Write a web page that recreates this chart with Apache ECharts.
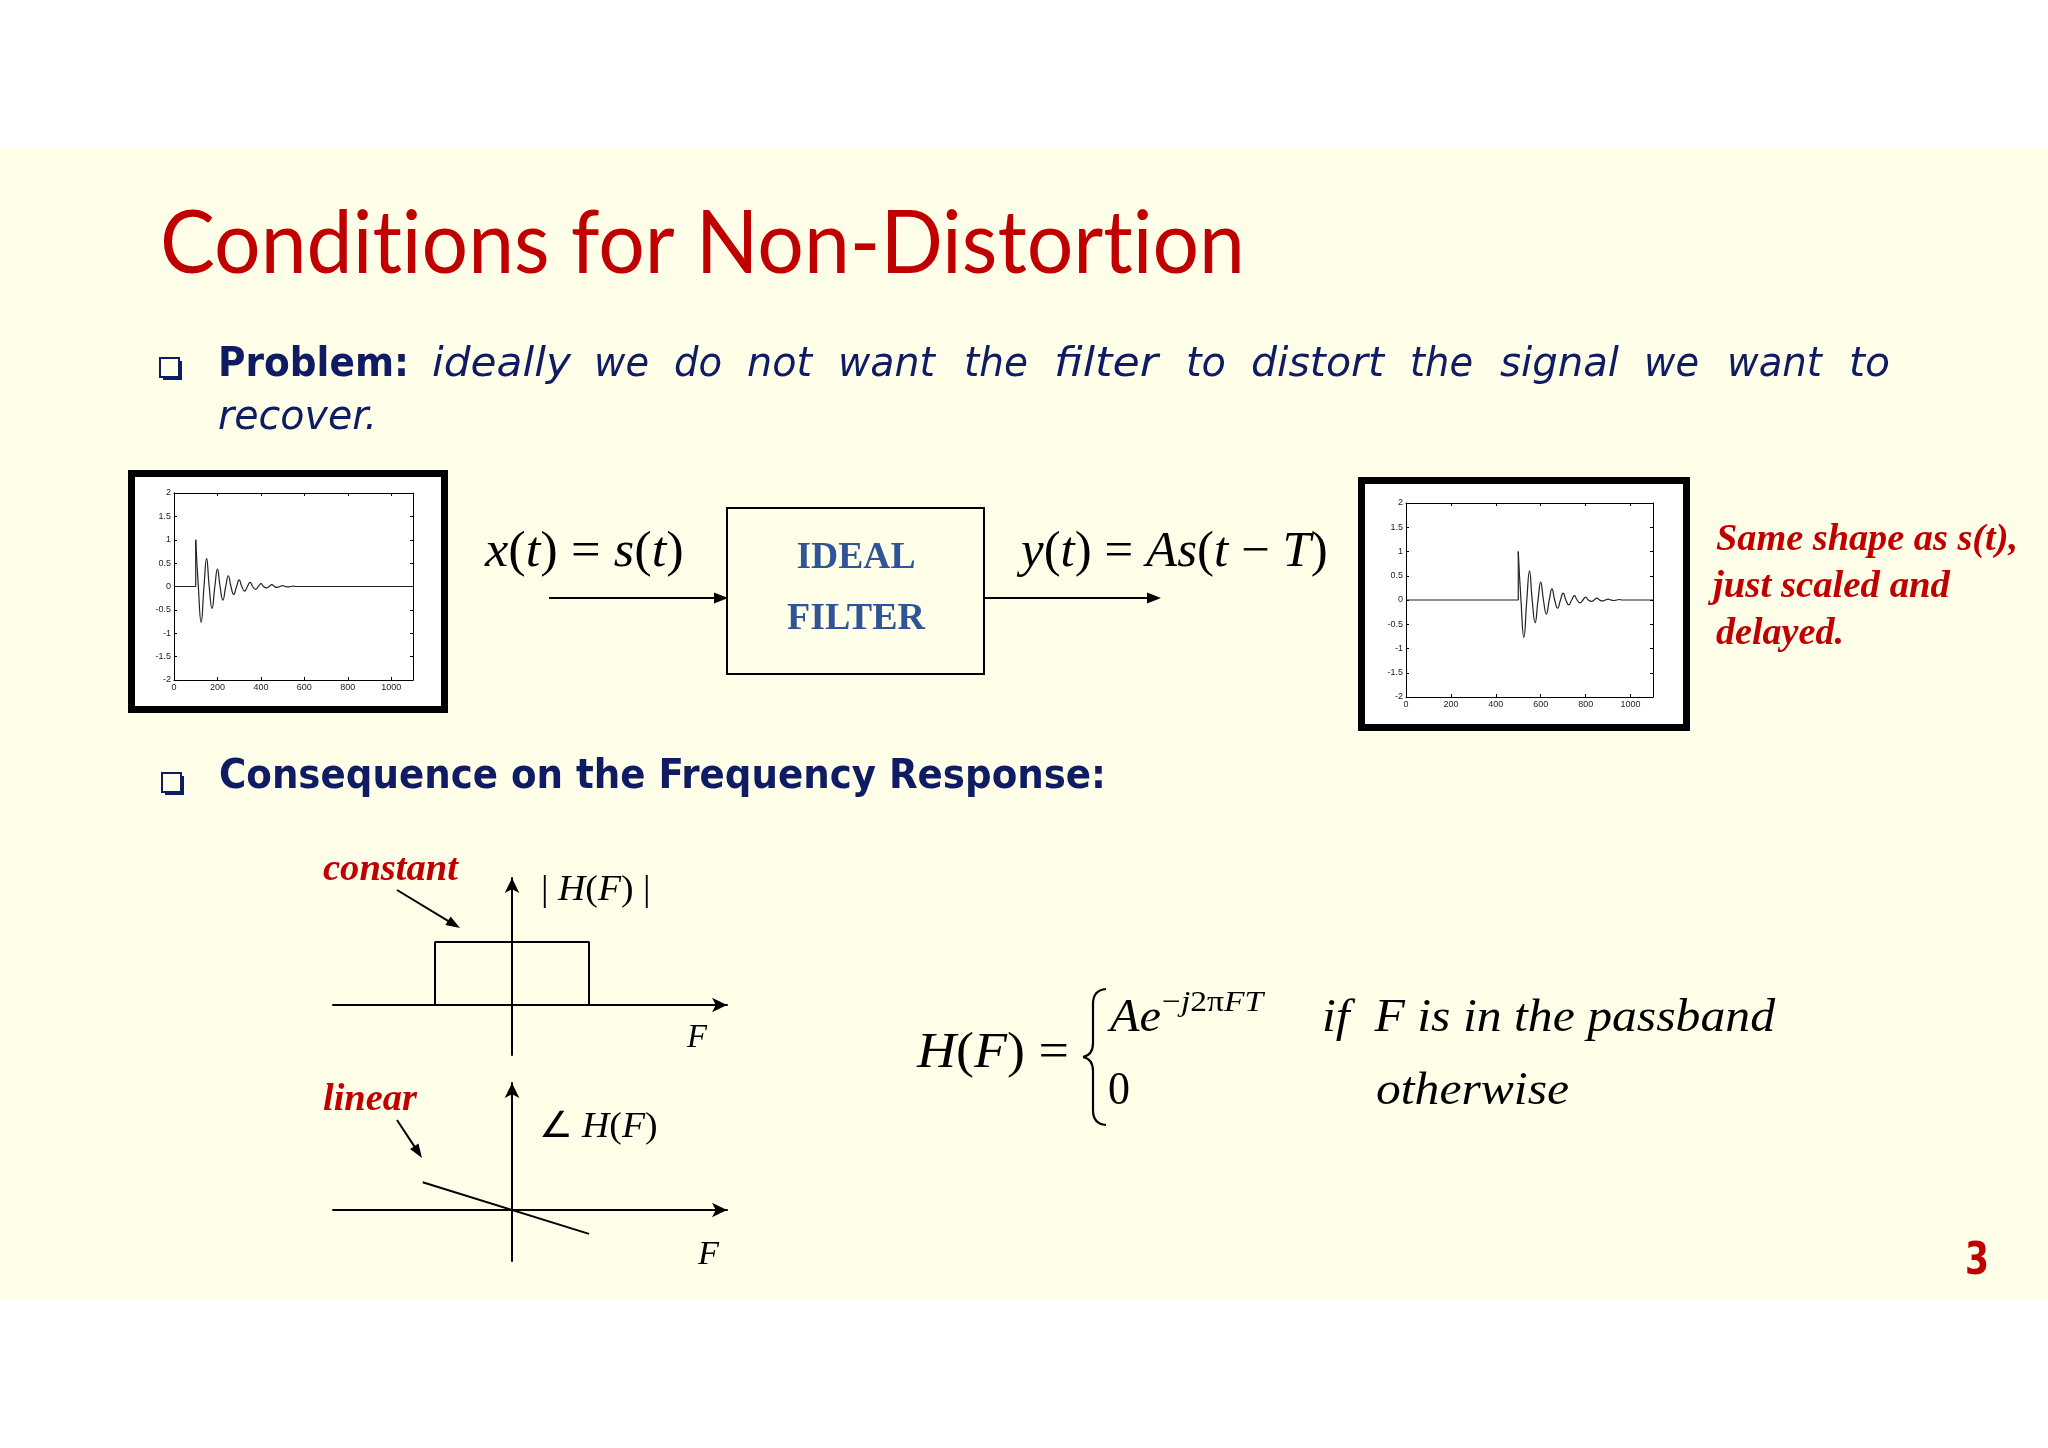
<!DOCTYPE html>
<html><head><meta charset="utf-8">
<script src="https://cdn.jsdelivr.net/npm/echarts@6/dist/echarts.min.js"></script>
<style>html,body{margin:0;padding:0;background:#fff}#c{width:2048px;height:1448px}</style>
</head><body><div id="c"></div>
<script>
// ---------------- data ----------------
const signalTimeTicks = [0, 200, 400, 600, 800, 1000];
const signalAmpTicks = [-2, -1.5, -1, -0.5, 0, 0.5, 1, 1.5, 2];

const inputBaseTime  = [0, 100, 100];
const inputBaseValue = [0, 0, 1];
const inputRingTime  = [100,112,125,138,150,162,175,188,200,212,225,238,250,262,275,288,300,312,325,338,350,362,375,388,400,412,425,438,450,462,475,488,500,512,525,538,550,562,1100];
const inputRingValue = [1,0,-0.77,0,0.60,0,-0.47,0,0.37,0,-0.29,0,0.23,0,-0.17,0,0.14,0,-0.10,0,0.09,0,-0.06,0,0.06,0,-0.03,0,0.04,0,-0.02,0,0.02,0,-0.01,0,0.01,0,0];

const outputBaseTime  = [0, 500, 500];
const outputBaseValue = [0, 0, 1];
const outputRingTime  = [500,512,525,538,550,562,575,588,600,612,625,638,650,662,675,688,700,712,725,738,750,762,775,788,800,812,825,838,850,862,875,888,900,912,925,938,950,962,1100];
const outputRingValue = [1,0,-0.77,0,0.60,0,-0.47,0,0.37,0,-0.29,0,0.23,0,-0.17,0,0.14,0,-0.10,0,0.09,0,-0.06,0,0.06,0,-0.03,0,0.04,0,-0.02,0,0.02,0,-0.01,0,0.01,0,0];

const magFreq  = [-1, -1, 1, 1];
const magValue = [0, 1, 1, 0];
const phaseFreq  = [-1.16, 1.0];
const phaseValue = [0.44, -0.38];

// ---------------- helpers ----------------
const zip = (a, b) => a.map((v, i) => [v, b[i]]);
const mctx = document.createElement('canvas').getContext('2d');
function measure(text, font) { mctx.font = font; return mctx.measureText(text).width; }
const SERIF = '"Liberation Serif", "Times New Roman", serif';
const SANS = '"DejaVu Sans Condensed", "DejaVu Sans", sans-serif';
const NAVY = '#0f1c63';
const RED = '#c00000';

function T(text, x, base, o) {
  const fam = o.family || SERIF;
  const font = (o.style || 'normal') + ' ' + (o.weight || 'normal') + ' ' + o.size + 'px ' + fam;
  let sx = 1;
  if (o.w) sx = o.w / measure(text, font);
  const mid = o.mid != null ? o.mid : 0.34;
  return { type: 'text', x: x, y: base - mid * o.size, scaleX: sx, z: 10,
    style: { text: text, x: 0, y: 0, font: font, fill: o.color || '#000', align: o.align || 'left', verticalAlign: 'middle' } };
}
function R(text, x, base, size, sx) {
  return { type: 'text', x: x, y: base - 0.34 * size, scaleX: sx || 1, z: 10,
    style: { text: text, x: 0, y: 0, rich: mathRich(size), font: size + 'px ' + SERIF, fill: '#000', align: 'left', verticalAlign: 'middle' } };
}
function arrow(x1, y1, x2, y2, L, W, lw) {
  const a = Math.atan2(y2 - y1, x2 - x1), c = Math.cos(a), s = Math.sin(a);
  const bx = x2 - L * c, by = y2 - L * s;
  return [
    { type: 'line', z: 10, shape: { x1: x1, y1: y1, x2: bx + 1 * c, y2: by + 1 * s }, style: { stroke: '#000', lineWidth: lw } },
    { type: 'polygon', z: 10, shape: { points: [[x2, y2], [bx - W / 2 * s, by + W / 2 * c], [bx + W / 2 * s, by - W / 2 * c]] }, style: { fill: '#000' } }
  ];
}
function bulletBox(x, y, s) {
  return [
    { type: 'rect', z: 9, shape: { x: x + 3, y: y + 3, width: s, height: s }, style: { fill: NAVY } },
    { type: 'rect', z: 10, shape: { x: x, y: y, width: s, height: s }, style: { fill: '#ffffe9', stroke: NAVY, lineWidth: 2 } }
  ];
}
function mathRich(size) {
  return {
    v: { font: 'italic ' + size + 'px ' + SERIF, fill: '#000' },
    r: { font: size + 'px ' + SERIF, fill: '#000' }
  };
}
function curve(x1, y1, cx, cy, x2, y2) {
  return { type: 'bezierCurve', z: 10, shape: { x1: x1, y1: y1, cpx1: cx, cpy1: cy, x2: x2, y2: y2 }, style: { fill: 'none', stroke: '#000', lineWidth: 2.2 } };
}
function seg(x1, y1, x2, y2, lw) {
  return { type: 'line', z: 10, shape: { x1: x1, y1: y1, x2: x2, y2: y2 }, style: { stroke: '#000', lineWidth: lw || 2.2 } };
}

// ---------------- graphics (slide layout) ----------------
const G = [];
G.push({ type: 'rect', z: -20, shape: { x: 0, y: 148, width: 2048, height: 1151 }, style: { fill: '#ffffe9' } });
// title
G.push(T('Condit\u200Cions for Non-Distort\u200Cion', 160, 279, { size: 88, family: 'Lato, "Open Sans", sans-serif', color: RED, w: 1085, mid: 0.39 }));
// bullet 1
G.push(...bulletBox(160, 358, 19));
const line1 = [
  ['Problem:', 218, 409, 'bold', 'normal'],
  ['ideally', 432, 571], ['we', 594, 649], ['do', 674, 722], ['not', 747, 812], ['want', 838, 935],
  ['the', 964, 1028], ['filter', 1054, 1158], ['to', 1186, 1226], ['distort', 1251, 1384], ['the', 1410, 1473],
  ['signal', 1500, 1619], ['we', 1644, 1699], ['want', 1727, 1822], ['to', 1849, 1890]
];
line1.forEach(w => G.push(T(w[0], w[1], 380, { size: 40, family: SANS, weight: w[3] || 'normal', style: w[4] || 'italic', color: NAVY, w: w[2] - w[1], mid: 0.35 })));
G.push(T('recover.', 218, 433, { size: 40, family: SANS, style: 'italic', color: NAVY, w: 159, mid: 0.35 }));
// bullet 2
G.push(...bulletBox(162, 773, 19));
G.push(T('Consequence on the Frequency Response:', 219, 792, { size: 40, family: SANS, weight: 'bold', color: NAVY, w: 887, mid: 0.35 }));

// signal frames
G.push({ type: 'rect', z: -10, shape: { x: 131.5, y: 473.5, width: 313, height: 236 }, style: { fill: '#fff', stroke: '#000', lineWidth: 7 } });
G.push({ type: 'rect', z: -10, shape: { x: 1361.5, y: 480.5, width: 325, height: 247 }, style: { fill: '#fff', stroke: '#000', lineWidth: 7 } });

// block diagram
G.push(R('{v|x}{r|(}{v|t}{r|) = }{v|s}{r|(}{v|t}{r|)}', 485, 570, 50, 1.05));
G.push(...arrow(549, 598, 728, 598, 14, 11, 2));
G.push({ type: 'rect', z: 10, shape: { x: 727, y: 508, width: 257, height: 166 }, style: { fill: 'none', stroke: '#000', lineWidth: 2 } });
G.push(T('IDEAL', 856, 571, { size: 37, weight: 'bold', color: '#2f5597', align: 'center', w: 119 }));
G.push(T('FILTER', 856, 632, { size: 37, weight: 'bold', color: '#2f5597', align: 'center', w: 138 }));
G.push(...arrow(984, 598, 1161, 598, 14, 11, 2));
G.push(R('{v|y}{r|(}{v|t}{r|) = }{v|As}{r|(}{v|t}{r| \u2212 }{v|T}{r|)}', 1021, 570, 50, 1.02));

// red note
G.push(T('Same shape as s(t),', 1716, 553, { size: 38, weight: 'bold', style: 'italic', color: RED, w: 302 }));
G.push(T('just scaled and', 1713, 600, { size: 38, weight: 'bold', style: 'italic', color: RED, w: 237 }));
G.push(T('delayed.', 1716, 647, { size: 38, weight: 'bold', style: 'italic', color: RED, w: 128 }));

// frequency-plot annotations
G.push(T('constant', 323, 883, { size: 37, weight: 'bold', style: 'italic', color: RED, w: 135 }));
G.push(...arrow(397, 890, 460, 928, 14, 10, 2));
G.push(R('{r|| }{v|H}{r|(}{v|F}{r|) |}', 541, 903, 36, 1.05));
G.push(T('F', 687, 1050, { size: 34, style: 'italic', w: 20 }));
G.push(T('linear', 323, 1113, { size: 37, weight: 'bold', style: 'italic', color: RED, w: 94 }));
G.push(...arrow(397, 1120, 422, 1158, 14, 10, 2));
G.push(R('{r|\u2220 }{v|H}{r|(}{v|F}{r|)}', 539, 1140, 36, 1.05));
G.push(T('F', 698, 1267, { size: 34, style: 'italic', w: 21 }));

// formula
G.push(R('{v|H}{r|(}{v|F}{r|) =}', 917, 1071, 50, 1.08));
G.push(curve(1106, 989, 1093, 990, 1093, 1004));
G.push(seg(1093, 1004, 1093, 1043));
G.push(curve(1093, 1043, 1093, 1055, 1083, 1057));
G.push(curve(1083, 1057, 1093, 1059, 1093, 1071));
G.push(seg(1093, 1071, 1093, 1110));
G.push(curve(1093, 1110, 1093, 1124, 1106, 1125));
G.push(T('Ae', 1110, 1035, { size: 46, style: 'italic', w: 51 }));
G.push(R('{r|\u2212}{v|j}{r|2\u03c0}{v|FT}', 1162, 1013, 30, 1.12));
G.push(T('if  F is in the passband', 1322, 1035, { size: 46, style: 'italic', w: 453 }));
G.push(T('0', 1108, 1108, { size: 46, w: 22 }));
G.push(T('otherwise', 1376, 1108, { size: 46, style: 'italic', w: 193 }));

// page number
G.push(T('3', 1977, 1278, { size: 44, family: SANS, weight: 'bold', color: RED, align: 'center', w: 24, mid: 0.35 }));

// ---------------- chart ----------------
const tickFont = { fontSize: 9, color: '#222', fontFamily: '"Liberation Sans", Arial, sans-serif' };
function sigX(gi, pos, labels) {
  return { type: 'value', gridIndex: gi, position: pos, min: signalTimeTicks[0], max: 1100,
    interval: signalTimeTicks[1] - signalTimeTicks[0],
    axisLine: { onZero: false, lineStyle: { color: '#000', width: 1 } },
    axisTick: { show: true, inside: true, length: 3, lineStyle: { color: '#000' } },
    axisLabel: Object.assign({ show: labels, margin: 3, showMaxLabel: false, formatter: v => String(v) }, tickFont),
    splitLine: { show: false } };
}
function sigY(gi, pos, labels) {
  return { type: 'value', gridIndex: gi, position: pos, min: signalAmpTicks[0], max: signalAmpTicks[signalAmpTicks.length - 1],
    interval: signalAmpTicks[1] - signalAmpTicks[0],
    axisLine: { onZero: false, show: true, lineStyle: { color: '#000', width: 1 } },
    axisTick: { show: true, inside: true, length: 3, lineStyle: { color: '#000' } },
    axisLabel: Object.assign({ show: labels, margin: 3 }, tickFont),
    splitLine: { show: false } };
}
function fAxis(gi, min, max) {
  return { type: 'value', gridIndex: gi, min: min, max: max,
    axisLine: { show: true, onZero: true, symbol: ['none', 'arrow'], symbolSize: [11, 15], lineStyle: { color: '#000', width: 2 } },
    axisTick: { show: false }, axisLabel: { show: false }, splitLine: { show: false } };
}
const sigLine = { color: '#222', width: 1.2 };
const option = {
  animation: false,
  backgroundColor: '#ffffff',
  grid: [
    { left: 174, top: 493, width: 239, height: 187 },
    { left: 1406, top: 503, width: 247, height: 194 },
    { left: 333, top: 878, width: 394, height: 177 },
    { left: 333, top: 1083, width: 394, height: 178 }
  ],
  xAxis: [
    sigX(0, 'bottom', true), sigX(0, 'top', false),
    sigX(1, 'bottom', true), sigX(1, 'top', false),
    fAxis(2, -2.325, 2.792), fAxis(3, -2.325, 2.792)
  ],
  yAxis: [
    sigY(0, 'left', true), sigY(0, 'right', false),
    sigY(1, 'left', true), sigY(1, 'right', false),
    fAxis(2, -0.794, 2.016), fAxis(3, -0.81, 2.016)
  ],
  series: [
    { type: 'line', xAxisIndex: 0, yAxisIndex: 0, data: zip(inputBaseTime, inputBaseValue), showSymbol: false, lineStyle: sigLine },
    { type: 'line', xAxisIndex: 0, yAxisIndex: 0, data: zip(inputRingTime, inputRingValue), smooth: 0.5, showSymbol: false, lineStyle: sigLine },
    { type: 'line', xAxisIndex: 2, yAxisIndex: 2, data: zip(outputBaseTime, outputBaseValue), showSymbol: false, lineStyle: sigLine },
    { type: 'line', xAxisIndex: 2, yAxisIndex: 2, data: zip(outputRingTime, outputRingValue), smooth: 0.5, showSymbol: false, lineStyle: sigLine },
    { type: 'line', xAxisIndex: 4, yAxisIndex: 4, data: zip(magFreq, magValue), showSymbol: false, lineStyle: { color: '#000', width: 2 } },
    { type: 'line', xAxisIndex: 5, yAxisIndex: 5, data: zip(phaseFreq, phaseValue), showSymbol: false, lineStyle: { color: '#000', width: 2 } }
  ],
  graphic: { elements: G }
};
const chart = echarts.init(document.getElementById('c'));
chart.setOption(option);
</script></body></html>
